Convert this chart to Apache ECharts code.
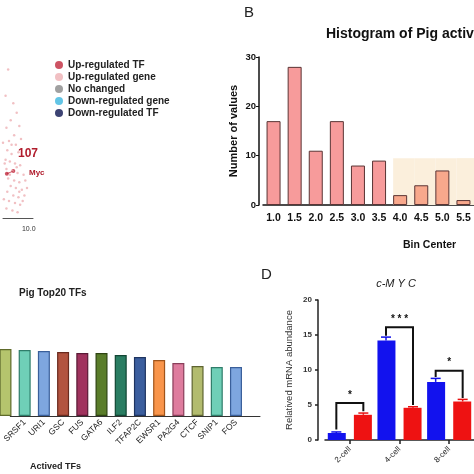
<!DOCTYPE html><html><head><meta charset="utf-8"><script src="https://cdn.jsdelivr.net/npm/echarts@6/dist/echarts.min.js"></script>
<style>html,body{margin:0;padding:0;background:#fff}#c{width:474px;height:474px}</style></head><body><div id="c"></div>
<script>
// Panel A scatter (partial)
const upGenes=[[7.6,7.9],[7.3,6.5],[8.2,6.1],[7.9,5.2],[8.6,5.6],[7.4,4.8],[8.9,4.9],[8.3,4.4],[7.7,4.1],[9.1,4.2],[8.5,3.9],[7.5,3.6],[8.0,3.4],[8.8,3.5],[9.3,3.3],[7.8,3.0],[8.4,2.9],[9.0,2.8],[7.4,2.6],[8.1,2.5],[8.7,2.4],[9.4,2.3],[7.6,2.1],[8.3,2.0],[8.9,1.9],[7.9,1.7],[8.5,1.6],[9.2,1.5],[7.5,1.4],[8.2,1.2],[8.8,1.1],[7.7,0.9],[8.4,0.8],[9.0,0.7],[7.4,0.5],[8.1,0.4],[8.7,0.3],[9.5,1.2],[9.6,2.0],[9.3,0.9],[8.0,3.9],[7.3,3.1],[8.6,2.7],[7.8,2.3],[8.9,1.4],[7.1,1.0],[7.2,2.9],[7.0,4.0],[9.8,1.6]];
const upTF=[[7.45,2.35],[8.2,2.5]];
// Panel B histogram
const binCenters=['1.0','1.5','2.0','2.5','3.0','3.5','4.0','4.5','5.0','5.5'];
const binCounts=[17,28,11,17,8,9,2,4,7,1];
const shadeVals=[null,null,null,null,null,null,9.5,9.5,9.5,9.5];
// Panel C
const tfNames=['KLF4','SRSF1','URI1','GSC','FUS','GATA6','ILF2','TFAP2C','EWSR1','PA2G4','CTCF','SNIP1','FOS'];
const tfVals=[67,66,65,64,63,63,61,59,56,53,50,49,49];
const tfColors=['#b5c46d','#6fcfb7','#7ea6df','#b2533f','#a0335e','#5a7d2a','#2a7d62','#3b5e9e','#f9954b','#de7c9e','#b2bb6e','#6fcfb7','#7ea6df'];
const tfBorders=['#5e6a2a','#2f7d6a','#3a5f9a','#6a2a1e','#5a1a36','#2e4412','#124634','#1e3460','#a0541a','#8a3e5a','#5e6430','#2f7d6a','#3a5f9a'];
// Panel D
const stages=['2-cell','4-cell','8-cell'];
const blueVals=[1.0,14.2,8.3];
const blueErr=[0.15,0.5,0.5];
const redVals=[3.6,4.6,5.5];
const redErr=[0.25,0.15,0.3];
const brackets=[[0,5.3,1.5,4.1,'*'],[1,16.1,14.9,5.0,'* * *'],[2,9.9,9.0,6.0,'*']];

const ch=echarts.init(document.getElementById('c'));
const F='Liberation Sans, Arial, sans-serif';
const legNames=['Up-regulated TF','Up-regulated gene','No changed','Down-regulated gene','Down-regulated TF'];
const legCols=['#c0283c','#f4b6c0','#888888','#3bb6e0','#0c1450'];
const legSeries=legNames.map((n,i)=>({name:n,type:'scatter',xAxisIndex:0,yAxisIndex:0,data:[],itemStyle:{color:legCols[i]}}));
legSeries[0].data=upTF; legSeries[0].symbolSize=4;
legSeries[0].markLine={silent:true,symbol:'none',lineStyle:{color:'#c0283c',width:0.8,type:'solid'},label:{show:false},data:[[{coord:upTF[0]},{coord:upTF[1]}]]};
legSeries[1].data=upGenes; legSeries[1].symbolSize=2.5;
legSeries[1].itemStyle={color:'#eeb0b4'};
const tfIdx=tfNames.map((n,i)=>i);
function errBar(vals,errs,off){return{type:'custom',xAxisIndex:3,yAxisIndex:3,z:1,data:vals.map((v,i)=>[i,v,errs[i]]),renderItem:(p,api)=>{const c=api.coord([api.value(0),api.value(1)]);const t=api.coord([api.value(0),api.value(1)+api.value(2)]);const x=c[0]+off;return{type:'group',children:[{type:'line',shape:{x1:x,y1:c[1],x2:x,y2:t[1]},style:{stroke:off<0?'#1010e8':'#e81010',lineWidth:1.5}},{type:'line',shape:{x1:x-5,y1:t[1],x2:x+5,y2:t[1]},style:{stroke:off<0?'#1010e8':'#e81010',lineWidth:1.5}}]};}}}
ch.setOption({
animation:false,
title:[
{text:'B',left:239,top:0,textStyle:{fontSize:15,fontWeight:'normal',fontFamily:F,color:'#222'}},
{text:'Histogram of Pig actived TFs',left:321,top:22,textStyle:{fontSize:14,fontWeight:'bold',fontFamily:F,color:'#111'}},
{text:'107',left:13,top:143,textStyle:{fontSize:12,fontWeight:'bold',fontFamily:F,color:'#b01c2c'}},
{text:'Myc',left:24,top:164,textStyle:{fontSize:8,fontWeight:'bold',fontFamily:F,color:'#b01c2c'}},
{text:'Pig Top20 TFs',left:14,top:283,textStyle:{fontSize:10,fontWeight:'bold',fontFamily:F,color:'#222'}},
{text:'Actived TFs',left:25,top:457,textStyle:{fontSize:9,fontWeight:'bold',fontFamily:F,color:'#222'}},
{text:'D',left:256,top:262,textStyle:{fontSize:15,fontWeight:'normal',fontFamily:F,color:'#222'}},
{text:'c-M Y C',left:391,top:273,textAlign:'center',textStyle:{fontSize:11,fontStyle:'italic',fontWeight:'normal',fontFamily:F,color:'#222'}},
{text:'Bin Center',left:398,top:235,textStyle:{fontSize:10.5,fontWeight:'bold',fontFamily:F,color:'#111'}}
],
legend:{data:legNames,left:50,top:55,orient:'vertical',itemGap:2,itemWidth:8,itemHeight:8,icon:'circle',textStyle:{fontSize:10,fontWeight:'bold',fontFamily:F,color:'#222'}},
grid:[
{left:0,top:30,width:33,height:188},
{left:263,top:57,width:225,height:148},
{left:0,top:316,width:260,height:100},
{left:325,top:300,width:156,height:140}
],
xAxis:[
{gridIndex:0,type:'value',min:7,max:10.5,interval:1,axisLine:{lineStyle:{color:'#555'}},axisTick:{show:false},splitLine:{show:false},axisLabel:{fontSize:7,color:'#333',formatter:v=>v===10?'10.0':''}},
{gridIndex:1,type:'category',data:binCenters,axisLine:{lineStyle:{color:'#111',width:1.5}},axisTick:{show:false},axisLabel:{fontSize:10.5,fontWeight:'bold',color:'#111',fontFamily:F,margin:8}},
{gridIndex:2,type:'value',min:0.25,max:13.25,axisLine:{show:true,onZero:false,lineStyle:{color:'#333'}},axisTick:{show:false},splitLine:{show:false},axisLabel:{customValues:tfIdx,formatter:v=>tfNames[Math.round(v)]||'',rotate:45,fontSize:8.5,color:'#222',fontFamily:F,margin:5}},
{gridIndex:3,type:'category',data:stages,axisLine:{lineStyle:{color:'#222',width:1.5}},axisTick:{show:true,alignWithLabel:true,length:4,lineStyle:{width:1.5}},axisLabel:{rotate:45,fontSize:8,color:'#222',fontFamily:F,margin:8}}
],
yAxis:[
{gridIndex:0,type:'value',min:0,max:10,show:false},
{gridIndex:1,type:'value',min:0,max:30,interval:10,offset:4,name:'Number of values',nameLocation:'middle',nameGap:20,nameTextStyle:{fontSize:11,fontWeight:'bold',color:'#111',fontFamily:F},axisLine:{show:true,lineStyle:{color:'#111',width:1.5}},axisTick:{show:true,length:3},splitLine:{show:false},axisLabel:{fontSize:9.5,fontWeight:'bold',color:'#111',margin:3}},
{gridIndex:2,type:'value',min:0,max:100,show:false},
{gridIndex:3,type:'value',min:0,max:20,interval:5,offset:7,name:'Relatived mRNA abundance',nameLocation:'middle',nameGap:24,nameTextStyle:{fontSize:9.5,color:'#333',fontFamily:F,letterSpacing:1},axisLine:{show:true,lineStyle:{color:'#222',width:1.5}},axisTick:{show:true,length:3,lineStyle:{width:1.5}},splitLine:{show:false},axisLabel:{fontSize:8,fontWeight:'bold',color:'#333',margin:6}}
],
series:[
...legSeries,
{type:'bar',xAxisIndex:1,yAxisIndex:1,data:shadeVals,barWidth:'100%',itemStyle:{color:'#fbefdc'},z:1,silent:true},
{type:'bar',xAxisIndex:1,yAxisIndex:1,data:binCounts.map((v,i)=>({value:v,itemStyle:{color:i<6?'#f79b9b':'#f8a88c'}})),barWidth:14,barGap:'-100%',itemStyle:{borderColor:'#5a3434',borderWidth:1},z:2},
{type:'bar',xAxisIndex:2,yAxisIndex:2,data:tfVals.map((v,i)=>({value:[i,v],itemStyle:{color:tfColors[i],borderColor:tfBorders[i]}})),barWidth:12,itemStyle:{borderWidth:1.2}},
{type:'bar',xAxisIndex:3,yAxisIndex:3,data:blueVals,barWidth:18,barGap:'45%',itemStyle:{color:'#1212ee'},z:2},
{type:'bar',xAxisIndex:3,yAxisIndex:3,data:redVals,barWidth:18,itemStyle:{color:'#ee1212'},z:2},
errBar(blueVals,blueErr,-13.5),errBar(redVals,redErr,13.5),
{type:'custom',xAxisIndex:3,yAxisIndex:3,z:3,data:brackets,renderItem:(p,api)=>{const i=api.value(0);const c=api.coord([i,api.value(1)]);const xl=c[0]-13.5,xr=c[0]+13.5;const yl=api.coord([i,api.value(2)])[1],yr=api.coord([i,api.value(3)])[1];return{type:'group',children:[{type:'polyline',shape:{points:[[xl,yl],[xl,c[1]],[xr,c[1]],[xr,yr]]},style:{stroke:'#111',lineWidth:2,fill:null}},{type:'text',style:{text:brackets[p.dataIndex][4],x:c[0],y:c[1]-3,textAlign:'center',textVerticalAlign:'bottom',fontSize:10,fontWeight:'bold',fill:'#111'}}]};}}
]});
</script></body></html>
